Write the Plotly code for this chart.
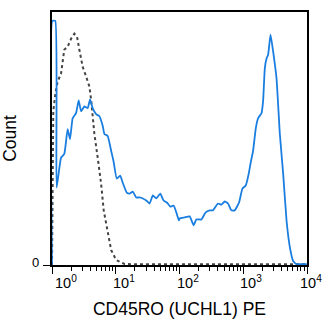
import numpy as np
import plotly.graph_objects as go

# Blue histogram (CD45RO PE stained): x in log10 decades, y in % of max scale
blue_decade = [0.0, 0.005, 0.052, 0.072, 0.142, 0.193, 0.245, 0.283, 0.324, 0.377, 0.418, 0.456,
               0.508, 0.560, 0.597, 0.638, 0.692, 0.744, 0.796, 0.822, 0.874, 0.928, 0.964,
               1.016, 1.069, 1.110, 1.173, 1.215, 1.267, 1.321, 1.373, 1.425, 1.478, 1.530,
               1.582, 1.635, 1.698, 1.750, 1.802, 1.855, 1.907, 1.950, 1.991, 2.002, 2.080,
               2.159, 2.222, 2.264, 2.343, 2.410, 2.473, 2.525, 2.604, 2.657, 2.709, 2.761,
               2.814, 2.866, 2.934, 2.987, 3.039, 3.086, 3.113, 3.154, 3.197, 3.233, 3.286,
               3.311, 3.338, 3.365, 3.390, 3.428, 3.469, 3.522, 3.574, 3.626, 3.679, 3.731,
               3.783, 3.836, 3.888, 3.998]
blue_count = [0.0, 96.5, 96.5, 30.6, 42.4, 43.9, 53.7, 49.8, 58.0, 60.0, 65.1, 60.8,
              62.7, 62.0, 65.5, 62.0, 59.6, 58.8, 54.9, 51.8, 51.0, 45.1, 41.2,
              34.1, 35.3, 32.5, 28.6, 28.2, 29.0, 26.7, 26.7, 26.3, 25.5, 24.3,
              27.5, 26.3, 28.2, 25.5, 24.7, 23.1, 23.5, 20.8, 17.6, 18.4, 18.8,
              19.2, 15.7, 18.0, 18.0, 20.8, 21.6, 21.6, 24.3, 23.9, 25.1, 24.3,
              21.6, 21.6, 24.7, 30.2, 31.4, 36.1, 40.0, 45.1, 54.1, 58.0, 60.0,
              64.7, 77.6, 81.6, 83.1, 91.0, 84.3, 73.7, 51.8, 36.1, 17.6, 7.1,
              1.6, 0.3, 0.3, 0.3]

# Dotted histogram (isotype control)
ctrl_decade = [0.0, 0.005, 0.020, 0.052, 0.088, 0.142, 0.193, 0.245, 0.299, 0.351, 0.393, 0.429,
               0.481, 0.535, 0.586, 0.613, 0.638, 0.665, 0.717, 0.770, 0.811, 0.874, 0.928,
               1.006, 1.137, 1.294, 2.0, 3.0, 3.998]
ctrl_count = [0.0, 30.0, 60.8, 67.5, 72.5, 75.7, 85.1, 86.3, 89.4, 91.4, 90.2, 85.1,
              78.4, 74.5, 70.6, 65.5, 58.8, 51.8, 42.4, 32.2, 21.6, 12.5, 5.9,
              2.0, 0.4, 0.3, 0.3, 0.3, 0.3]

major_exp = [0, 1, 2, 3, 4]
x_tick_text = ["10<sup>0</sup>", "10<sup>1</sup>", "10<sup>2</sup>", "10<sup>3</sup>", "10<sup>4</sup>"]
label_shift = [1, -5, -5, -5, -9]
minor_mult = [2, 3, 4, 5, 6, 7, 8, 9]

blue_x = 10 ** np.array(blue_decade)
ctrl_x = 10 ** np.array(ctrl_decade)

fig = go.Figure()
fig.add_trace(go.Scatter(x=ctrl_x, y=ctrl_count, mode="lines",
                         line=dict(color="#444444", width=2, dash="dot"), showlegend=False))
fig.add_trace(go.Scatter(x=blue_x, y=blue_count, mode="lines",
                         line=dict(color="#1a7ee0", width=1.8, shape="spline", smoothing=0.4),
                         showlegend=False))

minor_vals = [m * 10 ** e for e in major_exp[:-1] for m in minor_mult]

fig.update_xaxes(type="log", range=[0, 4], showgrid=False, zeroline=False,
                 showline=True, linecolor="black", linewidth=1.5, mirror=True,
                 ticks="outside", ticklen=7, tickwidth=1.2, tickcolor="black",
                 tickvals=[10 ** e for e in major_exp], showticklabels=False,
                 minor=dict(tickvals=minor_vals, ticks="outside", ticklen=4,
                            tickwidth=1, tickcolor="black", showgrid=False),
                 title=dict(text="CD45RO (UCHL1) PE", font=dict(size=17.5, color="black"),
                            standoff=30))
fig.update_yaxes(range=[0, 100], showgrid=False, zeroline=False,
                 showline=True, linecolor="black", linewidth=1.5, mirror=True,
                 ticks="outside", ticklen=7, tickwidth=1.2, tickcolor="black",
                 tickvals=[0], showticklabels=False,
                 title=dict(text="Count", font=dict(size=17.5, color="black"), standoff=22))

for e, t, s in zip(major_exp, x_tick_text, label_shift):
    fig.add_annotation(x=e, y=0, xref="x", yref="paper", text=t, showarrow=False,
                       xanchor="left", yanchor="top", xshift=s, yshift=-6,
                       font=dict(size=14.5, color="black"))
fig.add_annotation(x=0, y=0, xref="paper", yref="y", text="0", showarrow=False,
                   xanchor="right", yanchor="bottom", xshift=-11, yshift=-7,
                   font=dict(size=13, color="black"))

fig.update_layout(width=325, height=325, margin=dict(l=52, r=18, t=10, b=60),
                  plot_bgcolor="white", paper_bgcolor="white",
                  font=dict(family="Liberation Sans, Arial", color="black"))

fig.write_html("out.html")
